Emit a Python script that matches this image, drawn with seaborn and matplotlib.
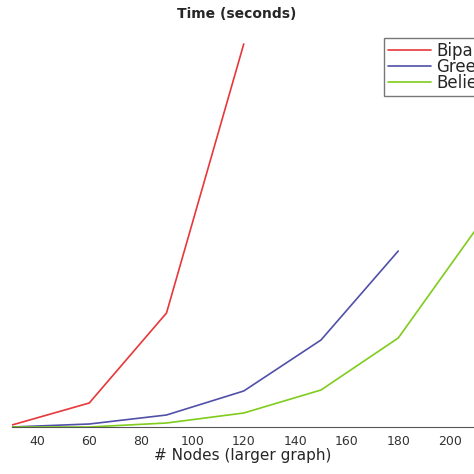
import matplotlib
matplotlib.use("Agg")
import matplotlib.pyplot as plt
import seaborn as sns
import pandas as pd

nodes_red = [30, 60, 90, 120]
red = [2, 24, 114, 383]
nodes_blue = [30, 60, 90, 120, 150, 180]
blue = [0, 3, 12, 36, 87, 176]
nodes_green = [30, 60, 90, 120, 150, 180, 210]
green = [0, 0, 4, 14, 37, 89, 197]
xticks = [40, 60, 80, 100, 120, 140, 160, 180, 200]

df = pd.concat([
    pd.DataFrame({"x": nodes_red, "y": red, "s": "Bipartite"}),
    pd.DataFrame({"x": nodes_blue, "y": blue, "s": "Greedy"}),
    pd.DataFrame({"x": nodes_green, "y": green, "s": "Belief"}),
])

sns.set_style("white")
plt.rcParams['font.family'] = ['DejaVu Sans']
fig = plt.figure(figsize=(4.74, 4.74), dpi=100)
ax = fig.add_axes([12/474, 47/474, 462/474, 400/474])
sns.lineplot(data=df, x="x", y="y", hue="s", ax=ax,
             palette={"Bipartite": "#e8373a", "Greedy": "#5050a8", "Belief": "#7fcc1c"},
             lw=1.2, legend=False)
ax.set_xlim(30, 30 + 462/2.575)
ax.set_ylim(0, 400)
ax.set_xticks(xticks)
ax.set_yticks([])
for s in ["left", "right", "top"]:
    ax.spines[s].set_visible(False)
ax.spines["bottom"].set_color("#555555")
ax.tick_params(axis="x", direction="in", length=4, colors="#555555", labelsize=9, pad=6)
for t in ax.get_xticklabels():
    t.set_color("#333333")
ax.set_xlabel("# Nodes (larger graph)", fontsize=11, labelpad=0)
ax.set_ylabel("")
fig.text(0.5, 0.985, "Time (seconds)", ha="center", va="top", fontsize=10, fontweight="bold")

from matplotlib.lines import Line2D
handles = [Line2D([], [], color=c, lw=1.2) for c in ["#e8373a", "#5050a8", "#7fcc1c"]]
leg = fig.legend(handles, ["Bipartite", "Greedy", "Belief"], loc="upper left",
                 bbox_to_anchor=(376/474, 1 - 30/474), fontsize=12, frameon=True,
                 fancybox=False, edgecolor="#555555", handlelength=2.6,
                 labelspacing=-0.1, borderpad=0.2, handletextpad=0.3)
leg.get_frame().set_linewidth(1.0)
fig.savefig("out.png", dpi=100)
